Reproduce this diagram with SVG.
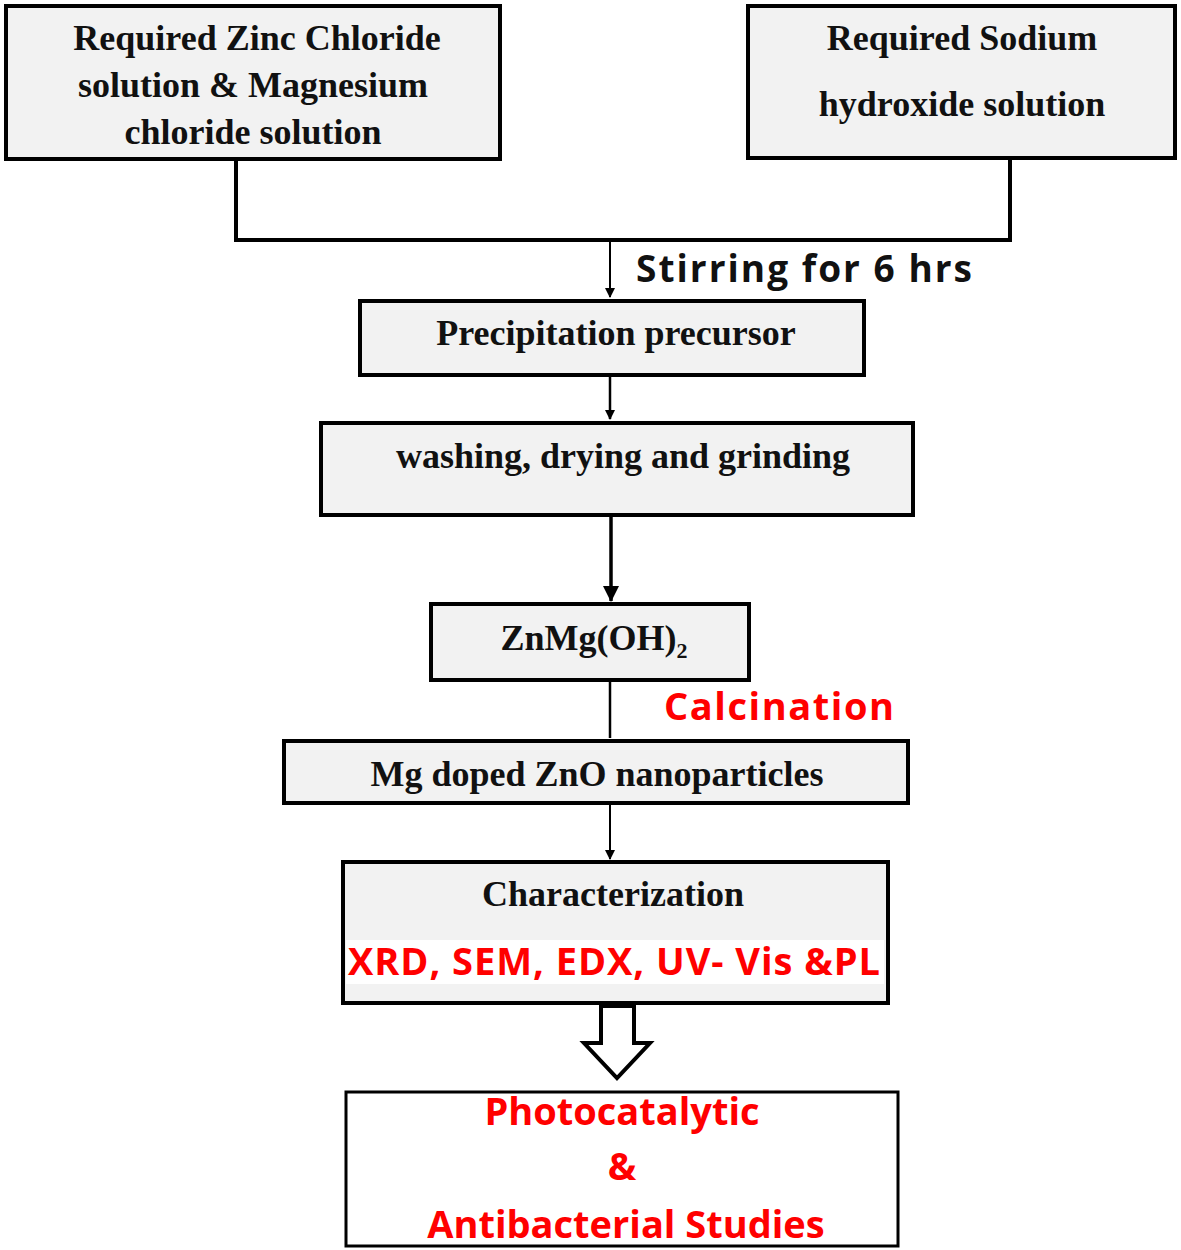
<svg xmlns="http://www.w3.org/2000/svg" width="1181" height="1250" viewBox="0 0 1181 1250">
<style>
.b{fill:#f2f2f2;stroke:#000;stroke-width:4}
.s{font-family:"Liberation Serif",serif;font-weight:bold;font-size:36px;fill:#111;text-anchor:middle}
.r{font-family:"Open Sans","DejaVu Sans",sans-serif;font-weight:bold;fill:#f00;font-size:38px}
.c{stroke:#000;fill:none}
</style>
<defs><marker id="a" markerWidth="10" markerHeight="10" refX="9" refY="5" orient="auto" markerUnits="userSpaceOnUse"><path d="M0,0L10,5L0,10z" fill="#000"/></marker>
<marker id="a2" markerWidth="16" markerHeight="16" refX="15" refY="8" orient="auto" markerUnits="userSpaceOnUse"><path d="M0,0L16,8L0,16z" fill="#000"/></marker></defs>
<rect width="1181" height="1250" fill="#fff"/>
<g id="n1"><rect class="b" x="6" y="6" width="494" height="153"/><text class="s"><tspan x="257" y="50">Required Zinc Chloride</tspan><tspan x="253" y="97">solution  &amp; Magnesium</tspan><tspan x="253" y="144">chloride solution</tspan></text></g>
<g id="n2"><rect class="b" x="748" y="6" width="427" height="152"/><text class="s"><tspan x="962" y="50">Required  Sodium</tspan><tspan x="962" y="116">hydroxide solution</tspan></text></g>
<g id="connectors">
<path class="c" stroke-width="4" d="M236,160V240H1010V158"/>
<path class="c" stroke-width="2" d="M610,240V297" marker-end="url(#a)"/>
<path class="c" stroke-width="2.5" d="M610,375V419" marker-end="url(#a)"/>
<path class="c" stroke-width="3.5" d="M611,515V601" marker-end="url(#a2)"/>
<path class="c" stroke-width="2.5" d="M610,680V738"/>
<path class="c" stroke-width="2" d="M610,803V859" marker-end="url(#a)"/>
<path d="M601,1006H634V1043H650L617,1078L584,1043H601Z" fill="#fff" stroke="#000" stroke-width="4"/>
</g>
<text x="636" y="282" font-family="'Open Sans','DejaVu Sans',sans-serif" font-weight="bold" font-size="37" fill="#111" textLength="336">Stirring for 6 hrs</text>
<g id="n3"><rect class="b" x="360" y="301" width="504" height="74"/><text class="s" x="616" y="345">Precipitation precursor</text></g>
<g id="n4"><rect class="b" x="321" y="423" width="592" height="92"/><text class="s" x="623" y="468">washing, drying and grinding</text></g>
<g id="n5"><rect class="b" x="431" y="604" width="318" height="76"/><text class="s" x="594" y="650">ZnMg(OH)<tspan font-size="22" dy="8">2</tspan></text></g>
<text class="r" x="664" y="720" textLength="230">Calcination</text>
<g id="n6"><rect class="b" x="284" y="741" width="624" height="62"/><text class="s" x="597" y="786">Mg doped ZnO nanoparticles</text></g>
<g id="n7"><rect class="b" x="343" y="862" width="545" height="141"/><text class="s" x="613" y="906">Characterization</text><rect x="346" y="940" width="538" height="44" fill="#fff"/><text class="r" x="614" y="975" text-anchor="middle" textLength="532">XRD, SEM, EDX, UV- Vis &amp;PL</text></g>
<g id="n8"><rect x="346" y="1092" width="552" height="154" fill="#fff" stroke="#000" stroke-width="3"/><text class="r" text-anchor="middle"><tspan x="622" y="1125">Photocatalytic</tspan><tspan x="622" y="1180">&amp;</tspan><tspan x="626" y="1238">Antibacterial Studies</tspan></text></g>
</svg>
